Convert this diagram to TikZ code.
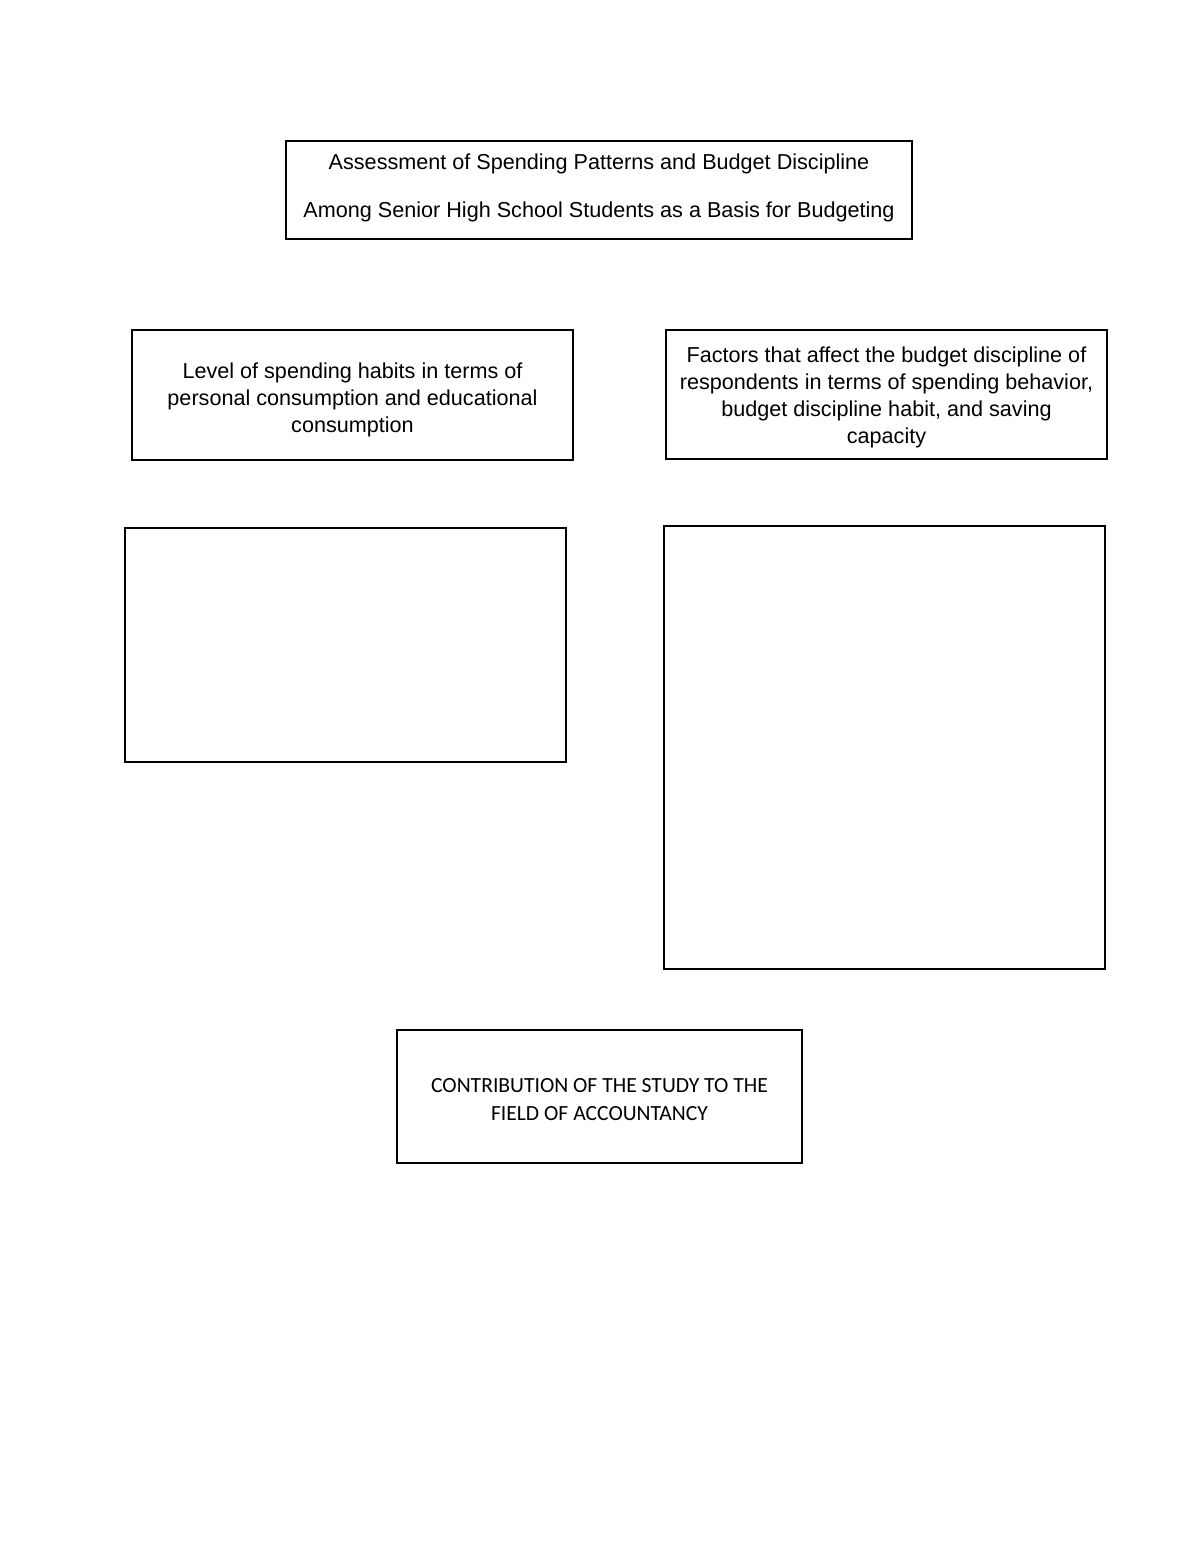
\documentclass[tikz,border=0pt]{standalone}
\usepackage{fontspec}
\setmainfont{Liberation Sans}
\newfontfamily\capsfont{Carlito}
\usetikzlibrary{positioning}
\tikzset{box/.style = {shape=rectangle,draw,line width=1.6pt,align=center,inner sep=0pt,
    font=\fontsize{12.3}{15.3}\selectfont}}
\tikzset{frame/.style = {box,minimum width=8.82cm}}

\begin{document}
\begin{tikzpicture}[x=0.02cm,y=-0.02cm]
            \useasboundingbox (0,0) rectangle (1200,1553);

            % Title
            \node[box,minimum width=12.52cm,minimum height=1.96cm] (title) at (599,190)
                {Assessment of Spending Patterns and Budget Discipline\\[12.5pt]
                 Among Senior High School Students as a Basis for Budgeting\rule[-4.9pt]{0pt}{1pt}};

            % Objectives
            \node[frame,minimum height=2.6cm] (level) at (352.5,395)
                {\rule{0pt}{14.6pt}Level of spending habits in terms of\\
                 personal consumption and educational\\
                 consumption};
            \node[frame,minimum height=2.58cm] (factors) at (886.5,394.5)
                {\rule{0pt}{12.4pt}Factors that affect the budget discipline of\\
                 respondents in terms of spending behavior,\\
                 budget discipline habit, and saving\\
                 capacity};

            % Empty boxes
            \node[frame,minimum height=4.68cm] (levelbox) at (345.5,645) {};
            \node[frame,minimum height=8.86cm] (factorsbox) at (884.5,747.5) {};

            % Contribution
            \node[box,minimum width=8.1cm,minimum height=2.66cm,
                  font=\capsfont\fontsize{12.3}{16}\selectfont] (contrib) at (599.5,1096.5)
                {\rule{0pt}{11.4pt}CONTRIBUTION OF THE STUDY TO THE\\
                 FIELD OF ACCOUNTANCY};

        \end{tikzpicture}
\end{document}
